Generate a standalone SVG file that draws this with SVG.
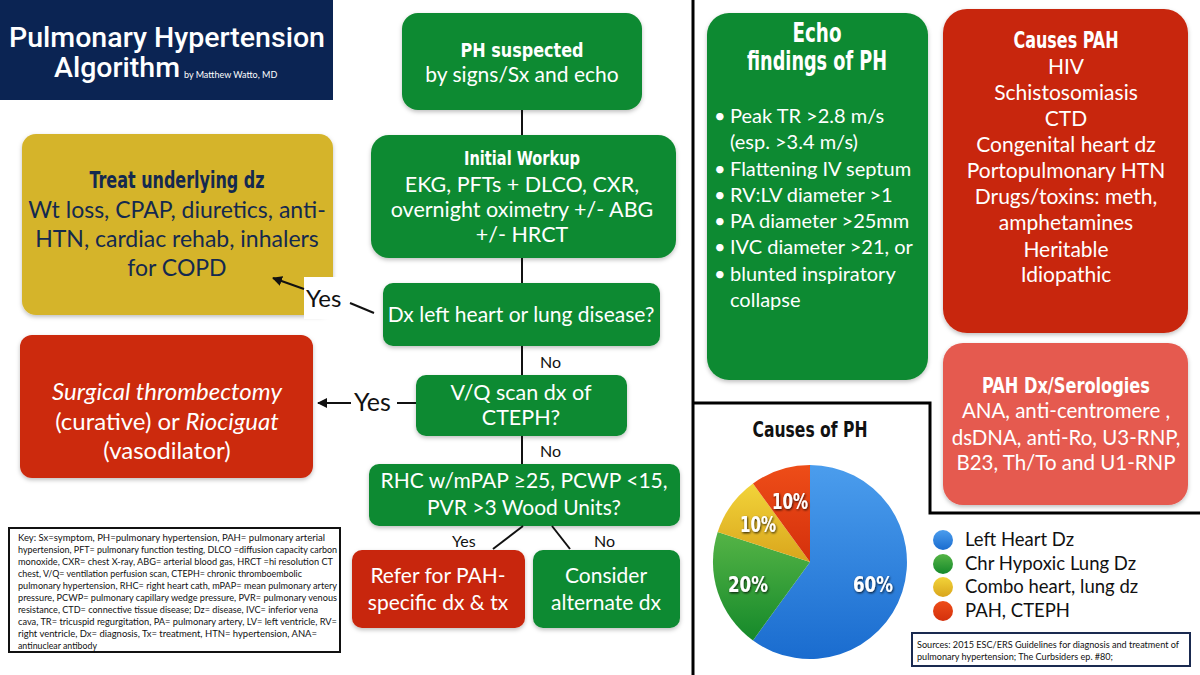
<svg xmlns="http://www.w3.org/2000/svg" width="1200" height="675" viewBox="0 0 1200 675">
<defs>
<style>
.cond{font-family:"Liberation Sans Narrow","DejaVu Sans Condensed","Liberation Sans",sans-serif;font-weight:bold}
.body{font-family:Lato,"Liberation Sans",sans-serif}
.w{fill:#ffffff}
.c{text-anchor:middle}
.green{fill:#0f8a30}
.red{fill:#c8260d}
.ln{stroke:#111;stroke-width:2;fill:none}
.div{stroke:#000;stroke-width:3;fill:none}
.pct{font-family:"Liberation Sans Narrow","DejaVu Sans Condensed","Liberation Sans",sans-serif;font-weight:bold;font-size:21px;fill:#fff;text-anchor:middle}
.key{font-family:Lato,"Liberation Sans",sans-serif;font-size:9px;fill:#111}
</style>
<filter id="sh" x="-10%" y="-10%" width="120%" height="125%">
<feDropShadow dx="0" dy="2" stdDeviation="2" flood-color="#000" flood-opacity="0.25"/>
</filter>
<filter id="tsh" x="-20%" y="-20%" width="140%" height="150%">
<feDropShadow dx="0.8" dy="1.2" stdDeviation="0.8" flood-color="#000" flood-opacity="0.8"/>
</filter>
<marker id="ah" viewBox="0 0 10 10" refX="9" refY="5" markerWidth="5" markerHeight="5" orient="auto-start-reverse">
<path d="M0,0 L10,5 L0,10 Z" fill="#111"/>
</marker>
<linearGradient id="gBlue" x1="0" y1="0" x2="0" y2="1"><stop offset="0" stop-color="#4b9ded"/><stop offset="1" stop-color="#1a6ccf"/></linearGradient>
<linearGradient id="gGreen" x1="0" y1="0" x2="0" y2="1"><stop offset="0" stop-color="#55b446"/><stop offset="1" stop-color="#15892a"/></linearGradient>
<linearGradient id="gYel" x1="0" y1="0" x2="0" y2="1"><stop offset="0" stop-color="#f2d43a"/><stop offset="1" stop-color="#d9a51c"/></linearGradient>
<linearGradient id="gRed" x1="0" y1="0" x2="0" y2="1"><stop offset="0" stop-color="#ee4d18"/><stop offset="1" stop-color="#d4300c"/></linearGradient>
</defs>
<rect width="1200" height="675" fill="#ffffff"/>

<!-- dividers -->
<g id="dividers">
<line class="div" x1="693" y1="0" x2="693" y2="675"/>
<polyline class="div" points="693,403 930,403 930,513 1200,513"/>
</g>

<!-- title -->
<g id="title">
<rect x="0" y="0" width="333" height="100" fill="#0b2453"/>
<text x="167" y="47" class="c" fill="#fff" font-family="Roboto,'Liberation Sans',Arial,sans-serif" font-weight="500" font-size="27" textLength="316" lengthAdjust="spacingAndGlyphs">Pulmonary Hypertension</text>
<text x="54" y="77" fill="#fff" font-family="Roboto,'Liberation Sans',Arial,sans-serif" font-weight="500" font-size="27" textLength="126" lengthAdjust="spacingAndGlyphs">Algorithm</text>
<text x="184" y="78" fill="#fff" class="body" font-size="9">by Matthew Watto, MD</text>
</g>

<!-- PH suspected -->
<g id="n-suspected">
<rect x="402" y="13" width="240" height="97" rx="16" class="green" filter="url(#sh)"/>
<text x="522" y="57" class="cond w c" font-size="20" textLength="123" lengthAdjust="spacingAndGlyphs">PH suspected</text>
<text x="522" y="82" class="body w c" font-size="21">by signs/Sx and echo</text>
</g>

<!-- Initial workup -->
<g id="n-workup">
<rect x="371" y="135" width="305" height="123" rx="18" class="green" filter="url(#sh)"/>
<text x="522" y="165" class="cond w c" font-size="20" textLength="116" lengthAdjust="spacingAndGlyphs">Initial Workup</text>
<text x="522" y="192" class="body w c" font-size="21.5">EKG, PFTs + DLCO, CXR,</text>
<text x="522" y="217" class="body w c" font-size="21.5">overnight oximetry +/- ABG</text>
<text x="522" y="242" class="body w c" font-size="21.5">+/- HRCT</text>
</g>

<!-- Treat underlying -->
<g id="n-treat">
<rect x="22" y="134" width="311" height="181" rx="14" fill="#d5b42a" filter="url(#sh)"/>
<text x="177" y="188" class="cond c" fill="#14294f" font-size="23" textLength="175" lengthAdjust="spacingAndGlyphs">Treat underlying dz</text>
<text x="177" y="218" class="body c" fill="#14294f" font-size="23">Wt loss, CPAP, diuretics, anti-</text>
<text x="177" y="247" class="body c" fill="#14294f" font-size="23">HTN, cardiac rehab, inhalers</text>
<text x="177" y="276" class="body c" fill="#14294f" font-size="23">for COPD</text>
</g>

<!-- Yes label 1 -->
<g id="yes1">
<rect x="304" y="277" width="46" height="42" fill="#ffffff"/>
<text x="306" y="307" class="body" font-size="24" fill="#111">Yes</text>
</g>

<!-- Dx left heart -->
<g id="n-dx">
<rect x="383" y="283" width="277" height="63" rx="10" class="green" filter="url(#sh)"/>
<text x="521" y="322" class="body w c" font-size="21">Dx left heart or lung disease?</text>
</g>

<!-- Surgical -->
<g id="n-surgical">
<rect x="20" y="335" width="293" height="143" rx="12" fill="#cc2a0e" filter="url(#sh)"/>
<text x="167" y="400" class="body w c" font-size="24" font-style="italic">Surgical thrombectomy</text>
<text x="167" y="430" class="body w c" font-size="24">(curative) or <tspan font-style="italic">Riociguat</tspan></text>
<text x="167" y="459" class="body w c" font-size="24">(vasodilator)</text>
</g>

<!-- Yes label 2 -->
<g id="yes2">
<text x="354" y="411" class="body" font-size="25" fill="#111">Yes</text>
</g>

<!-- VQ -->
<g id="n-vq">
<rect x="416" y="375" width="211" height="61" rx="10" class="green" filter="url(#sh)"/>
<text x="521" y="400" class="body w c" font-size="21.5">V/Q scan dx of</text>
<text x="521" y="425" class="body w c" font-size="21.5">CTEPH?</text>
</g>

<!-- RHC -->
<g id="n-rhc">
<rect x="369" y="464" width="311" height="62" rx="10" class="green" filter="url(#sh)"/>
<text x="524" y="488" class="body w c" font-size="21">RHC w/mPAP ≥25, PCWP &lt;15,</text>
<text x="524" y="515" class="body w c" font-size="21">PVR &gt;3 Wood Units?</text>
</g>

<!-- Refer -->
<g id="n-refer">
<rect x="352" y="550" width="173" height="78" rx="10" class="red" filter="url(#sh)"/>
<text x="438" y="583" class="body w c" font-size="21">Refer for PAH-</text>
<text x="438" y="610" class="body w c" font-size="21">specific dx &amp; tx</text>
</g>

<!-- Consider -->
<g id="n-consider">
<rect x="533" y="550" width="147" height="78" rx="10" class="green" filter="url(#sh)"/>
<text x="606" y="583" class="body w c" font-size="21">Consider</text>
<text x="606" y="610" class="body w c" font-size="21">alternate dx</text>
</g>

<!-- Key -->
<g id="key">
<rect x="9" y="528" width="331" height="124" fill="#fff" stroke="#111" stroke-width="2"/>
<text class="key" x="18" y="541" textLength="307" lengthAdjust="spacingAndGlyphs">Key: Sx=symptom, PH=pulmonary hypertension, PAH= pulmonary arterial</text>
<text class="key" x="18" y="553" textLength="319" lengthAdjust="spacingAndGlyphs">hypertension, PFT= pulmonary function testing, DLCO =diffusion capacity carbon</text>
<text class="key" x="18" y="565" textLength="315" lengthAdjust="spacingAndGlyphs">monoxide, CXR= chest X-ray, ABG= arterial blood gas, HRCT =hi resolution CT</text>
<text class="key" x="18" y="577" textLength="284" lengthAdjust="spacingAndGlyphs">chest, V/Q= ventilation perfusion scan, CTEPH= chronic thromboembolic</text>
<text class="key" x="18" y="589" textLength="319" lengthAdjust="spacingAndGlyphs">pulmonary hypertension, RHC= right heart cath, mPAP= mean pulmonary artery</text>
<text class="key" x="18" y="601" textLength="319" lengthAdjust="spacingAndGlyphs">pressure, PCWP= pulmonary capillary wedge pressure, PVR= pulmonary venous</text>
<text class="key" x="18" y="613" textLength="300" lengthAdjust="spacingAndGlyphs">resistance, CTD= connective tissue disease; Dz= disease, IVC= inferior vena</text>
<text class="key" x="18" y="625" textLength="319" lengthAdjust="spacingAndGlyphs">cava, TR= tricuspid regurgitation, PA= pulmonary artery, LV= left ventricle, RV=</text>
<text class="key" x="18" y="637" textLength="299" lengthAdjust="spacingAndGlyphs">right ventricle, Dx= diagnosis, Tx= treatment, HTN= hypertension, ANA=</text>
<text class="key" x="18" y="649" textLength="79" lengthAdjust="spacingAndGlyphs">antinuclear antibody</text>
</g>

<!-- Echo findings -->
<g id="n-echo">
<rect x="707" y="13" width="221" height="367" rx="22" class="green" filter="url(#sh)"/>
<text x="817" y="42" class="cond w c" font-size="26" textLength="49" lengthAdjust="spacingAndGlyphs">Echo</text>
<text x="817" y="70" class="cond w c" font-size="26" textLength="140" lengthAdjust="spacingAndGlyphs">findings of PH</text>
<g class="body w" font-size="20">
<text x="714" y="123">•</text><text x="730" y="123">Peak TR &gt;2.8 m/s</text>
<text x="730" y="149">(esp. &gt;3.4 m/s)</text>
<text x="714" y="176">•</text><text x="730" y="176">Flattening IV septum</text>
<text x="714" y="202">•</text><text x="730" y="202">RV:LV diameter &gt;1</text>
<text x="714" y="228">•</text><text x="730" y="228">PA diameter &gt;25mm</text>
<text x="714" y="254">•</text><text x="730" y="254">IVC diameter &gt;21, or</text>
<text x="714" y="281">•</text><text x="730" y="281">blunted inspiratory</text>
<text x="730" y="307">collapse</text>
</g>
</g>

<!-- Causes PAH -->
<g id="n-causes">
<rect x="943" y="9" width="245" height="324" rx="24" class="red" filter="url(#sh)"/>
<text x="1066" y="48" class="cond w c" font-size="23" textLength="105" lengthAdjust="spacingAndGlyphs">Causes PAH</text>
<g class="body w c" font-size="21">
<text x="1066" y="74">HIV</text>
<text x="1066" y="100">Schistosomiasis</text>
<text x="1066" y="126">CTD</text>
<text x="1066" y="152">Congenital heart dz</text>
<text x="1066" y="178">Portopulmonary HTN</text>
<text x="1066" y="204">Drugs/toxins: meth,</text>
<text x="1066" y="230">amphetamines</text>
<text x="1066" y="257">Heritable</text>
<text x="1066" y="282">Idiopathic</text>
</g>
</g>

<!-- PAH Dx / Serologies -->
<g id="n-serologies">
<rect x="943" y="343" width="245" height="162" rx="20" fill="#e55a50" filter="url(#sh)"/>
<text x="1066" y="393" class="cond w c" font-size="21" textLength="168" lengthAdjust="spacingAndGlyphs">PAH Dx/Serologies</text>
<g class="body w c" font-size="20.5">
<text x="1066" y="418">ANA, anti-centromere ,</text>
<text x="1066" y="445">dsDNA, anti-Ro, U3-RNP,</text>
<text x="1066" y="470">B23, Th/To and U1-RNP</text>
</g>
</g>

<!-- Pie chart -->
<g id="pie">
<text x="810" y="437" class="cond c" fill="#111" font-size="21" textLength="115" lengthAdjust="spacingAndGlyphs">Causes of PH</text>
<path d="M810,562 L810,465 A97,97 0 1 1 753.0,640.5 Z" fill="url(#gBlue)"/>
<path d="M810,562 L753.0,640.5 A97,97 0 0 1 717.7,532.0 Z" fill="url(#gGreen)"/>
<path d="M810,562 L717.7,532.0 A97,97 0 0 1 753.0,483.5 Z" fill="url(#gYel)"/>
<path d="M810,562 L753.0,483.5 A97,97 0 0 1 810,465 Z" fill="url(#gRed)"/>
<g filter="url(#tsh)">
<text x="873" y="592" class="pct" textLength="40" lengthAdjust="spacingAndGlyphs">60%</text>
<text x="748" y="592" class="pct" textLength="40" lengthAdjust="spacingAndGlyphs">20%</text>
<text x="758" y="532" class="pct" textLength="36" lengthAdjust="spacingAndGlyphs">10%</text>
<text x="790" y="509" class="pct" textLength="36" lengthAdjust="spacingAndGlyphs">10%</text>
</g>
</g>

<!-- Legend -->
<g id="legend">
<circle cx="943" cy="540" r="10" fill="url(#gBlue)"/>
<circle cx="943" cy="564" r="10" fill="url(#gGreen)"/>
<circle cx="943" cy="587" r="10" fill="url(#gYel)"/>
<circle cx="943" cy="611" r="10" fill="url(#gRed)"/>
<g class="body" font-size="18.5" fill="#111">
<text x="965" y="546">Left Heart Dz</text>
<text x="965" y="570">Chr Hypoxic Lung Dz</text>
<text x="965" y="593">Combo heart, lung dz</text>
<text x="965" y="617">PAH, CTEPH</text>
</g>
</g>

<!-- Sources -->
<g id="sources">
<rect x="912" y="633" width="278" height="33" fill="#fff" stroke="#1a2a50" stroke-width="2"/>
<text x="917" y="648" class="key" font-size="9.3" textLength="262" lengthAdjust="spacingAndGlyphs">Sources: 2015 ESC/ERS Guidelines for diagnosis and treatment of</text>
<text x="917" y="660" class="key" font-size="9.3" textLength="196" lengthAdjust="spacingAndGlyphs">pulmonary hypertension; The Curbsiders ep. #80;</text>
</g>

<!-- connectors -->
<g id="connectors">
<line class="ln" x1="522" y1="110" x2="522" y2="135"/>
<line class="ln" x1="522" y1="258" x2="522" y2="283"/>
<line class="ln" x1="522" y1="346" x2="522" y2="375"/>
<line class="ln" x1="522" y1="436" x2="522" y2="464"/>
<line class="ln" x1="523" y1="526" x2="493" y2="549"/>
<line class="ln" x1="552" y1="526" x2="570" y2="549"/>
<line class="ln" x1="304" y1="289" x2="273" y2="278" stroke-width="2.5" marker-end="url(#ah)"/>
<line class="ln" x1="350" y1="303" x2="374" y2="313" stroke-width="2.5"/>
<line class="ln" x1="351" y1="403" x2="318" y2="403" stroke-width="2.5" marker-end="url(#ah)"/>
<line class="ln" x1="397" y1="403" x2="416" y2="403" stroke-width="2.5"/>
<text x="540" y="368" class="body" font-size="16" fill="#111">No</text>
<text x="540" y="457" class="body" font-size="16" fill="#111">No</text>
<text x="452" y="547" class="body" font-size="16" fill="#111">Yes</text>
<text x="594" y="547" class="body" font-size="16" fill="#111">No</text>
</g>
</svg>
